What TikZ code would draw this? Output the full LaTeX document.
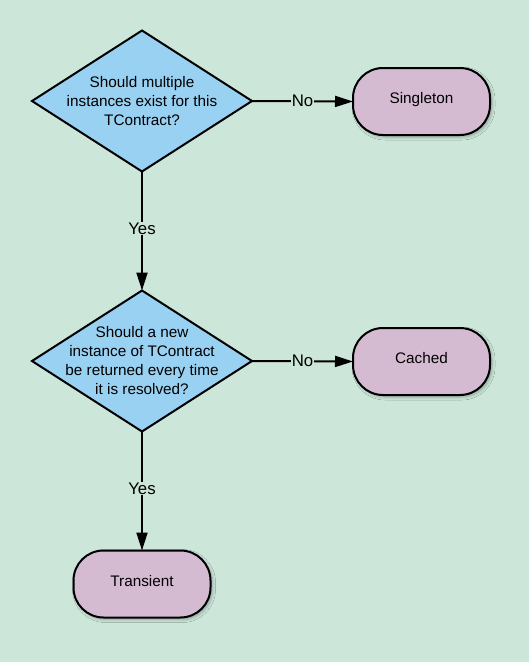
\documentclass[tikz,border=0pt]{standalone}
\usepackage{fontspec}
\setmainfont{Liberation Sans}
\usetikzlibrary{shapes.geometric,arrows.meta,shadows.blur}
\definecolor{bg}{RGB}{205,230,218}
\definecolor{dfill}{RGB}{153,209,243}
\definecolor{tfill}{RGB}{212,187,210}
\begin{document}
\begin{tikzpicture}[x=1pt,y=-1pt,
  decision/.style={diamond, draw=black, line width=2pt, fill=dfill, minimum width=220pt, minimum height=141pt, inner sep=0pt, outer sep=0pt},
  dtext/.style={align=center, font=\fontsize{15.3}{19}\selectfont, inner sep=0pt},
  terminal/.style={rectangle, rounded corners=30pt, draw=black, line width=2pt, fill=tfill, minimum width=137pt, minimum height=67pt, font=\fontsize{15.3}{19}\selectfont, text height=8pt, text depth=4pt, outer sep=0pt, blur shadow={shadow xshift=2pt, shadow yshift=-2pt, shadow blur radius=3pt, shadow opacity=30}},
  flow/.style={-{Triangle[length=18pt,width=11pt]}, line width=2pt},
  lbl/.style={fill=bg, font=\fontsize{16.8}{19}\selectfont, inner sep=1pt}]
\fill[bg] (0,0) rectangle (529,662);
\useasboundingbox (0,0) rectangle (529,662);

\node[decision] (d1) at (142,101) {};
\node[dtext] (d1t) at (d1) {Should multiple\\instances exist for this\\TContract?};
\node[decision] (d2) at (142,361) {};
\node[dtext] (d2t) at (d2) {Should a new\\instance of TContract\\be returned every time\\it is resolved?};

\node[terminal] (s) at (421.5,101.5) {Singleton};
\node[terminal] (c) at (421.5,361.5) {Cached};
\node[terminal] (t) at (142,584) {Transient};

\draw[flow] (d1.east) -- node[lbl] (no1) {No} (s.west);
\draw[flow] (d2.east) -- node[lbl] (no2) {No} (c.west);
\draw[flow] (d1.south) -- node[lbl, pos=0.48] (yes1) {Yes} (d2.north);
\draw[flow] (d2.south) -- node[lbl, pos=0.48] (yes2) {Yes} (t.north);
\end{tikzpicture}
\end{document}
